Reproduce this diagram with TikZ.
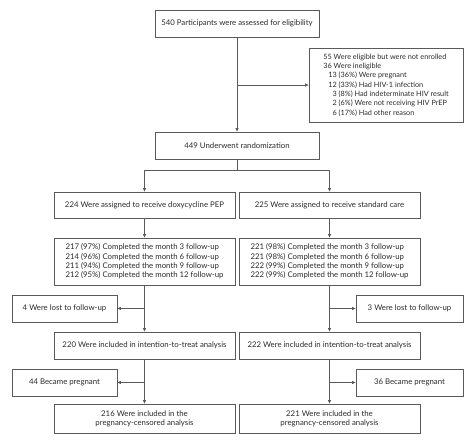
\documentclass[tikz,border=0pt]{standalone}
\usepackage{fontspec}
\setmainfont{Lato}
\usetikzlibrary{arrows.meta}
\definecolor{boxline}{HTML}{5A5A5A}
\definecolor{boxtext}{HTML}{2A2A2A}
\tikzset{
  box/.style={draw=boxline, line width=0.8pt, text=boxtext, inner sep=0pt,
    font=\fontsize{7.8}{9.3}\selectfont, align=center},
  link/.style={draw=boxline, line width=0.8pt, -{Triangle[length=3.5pt,width=3pt]}}
}
\begin{document}
\begin{tikzpicture}[x=1pt,y=-1pt]
\useasboundingbox (0,0) rectangle (474,445);

\node[box, minimum width=164pt, minimum height=27pt] (screen) at (237,23.5) {540 Participants were assessed for eligibility};
\node[box, minimum width=154pt, minimum height=74pt, align=left, font=\fontsize{7.3}{9.3}\selectfont] (excl) at (386,85) {%
55 Were eligible but were not enrolled\\
36 Were ineligible\\
\hspace*{5pt}13 (36\%) Were pregnant\\
\hspace*{5pt}12 (33\%) Had HIV-1 infection\\
\hspace*{5pt}\phantom{1}3 (8\%) Had indeterminate HIV result\\
\hspace*{5pt}\phantom{1}2 (6\%) Were not receiving HIV PrEP\\
\hspace*{5pt}\phantom{1}6 (17\%) Had other reason};
\node[box, minimum width=164pt, minimum height=27pt] (rand) at (237,145.5) {449 Underwent randomization};

% doxycycline group
\node[box, minimum width=181pt, minimum height=26pt] (doxy) at (144.5,205) {224 Were assigned to receive doxycycline PEP};
\node[box, minimum width=181pt, minimum height=47pt, align=left] (doxyfu) at (144.5,261.5) {%
217 (97\%) Completed the month 3 follow-up\\
214 (96\%) Completed the month 6 follow-up\\
211 (94\%) Completed the month 9 follow-up\\
212 (95\%) Completed the month 12 follow-up};
\node[box, minimum width=105pt, minimum height=27pt] (doxylost) at (64.5,308.5) {4 Were lost to follow-up};
\node[box, minimum width=181pt, minimum height=27pt] (doxyitt) at (144.5,345.5) {220 Were included in intention-to-treat analysis};
\node[box, minimum width=105pt, minimum height=27pt] (doxypreg) at (64.5,382.5) {44 Became pregnant};
\node[box, minimum width=181pt, minimum height=29pt] (doxypc) at (144.5,418.5) {216 Were included in the\\pregnancy-censored analysis};

% standard-care group
\node[box, minimum width=181pt, minimum height=26pt] (std) at (329.5,205) {225 Were assigned to receive standard care};
\node[box, minimum width=181pt, minimum height=47pt, align=left] (stdfu) at (329.5,261.5) {%
221 (98\%) Completed the month 3 follow-up\\
221 (98\%) Completed the month 6 follow-up\\
222 (99\%) Completed the month 9 follow-up\\
222 (99\%) Completed the month 12 follow-up};
\node[box, minimum width=107pt, minimum height=27pt] (stdlost) at (409.5,308.5) {3 Were lost to follow-up};
\node[box, minimum width=181pt, minimum height=27pt] (stditt) at (329.5,345.5) {222 Were included in intention-to-treat analysis};
\node[box, minimum width=107pt, minimum height=27pt] (stdpreg) at (409.5,382.5) {36 Became pregnant};
\node[box, minimum width=181pt, minimum height=29pt] (stdpc) at (329.5,418.5) {221 Were included in the\\pregnancy-censored analysis};

% connectors
\draw[link] (screen) -- (rand);
\coordinate (exclfork) at (screen.south |- excl.west);
\draw[link] (exclfork) -- (excl.west);
\coordinate (randfork) at (237,170);
\draw[boxline, line width=0.8pt] (rand) -- (randfork);
\draw[link] (randfork) -| (doxy.north);
\draw[link] (randfork) -| (std.north);

\draw[link] (doxy) -- (doxyfu);
\draw[link] (doxyfu) -- (doxyitt);
\coordinate (doxylostfork) at (doxyfu.south |- doxylost.east);
\draw[link] (doxylostfork) -- (doxylost.east);
\draw[link] (doxyitt) -- (doxypc);
\coordinate (doxypregfork) at (doxyitt.south |- doxypreg.east);
\draw[link] (doxypregfork) -- (doxypreg.east);

\draw[link] (std) -- (stdfu);
\draw[link] (stdfu) -- (stditt);
\coordinate (stdlostfork) at (stdfu.south |- stdlost.west);
\draw[link] (stdlostfork) -- (stdlost.west);
\draw[link] (stditt) -- (stdpc);
\coordinate (stdpregfork) at (stditt.south |- stdpreg.west);
\draw[link] (stdpregfork) -- (stdpreg.west);
\end{tikzpicture}
\end{document}
